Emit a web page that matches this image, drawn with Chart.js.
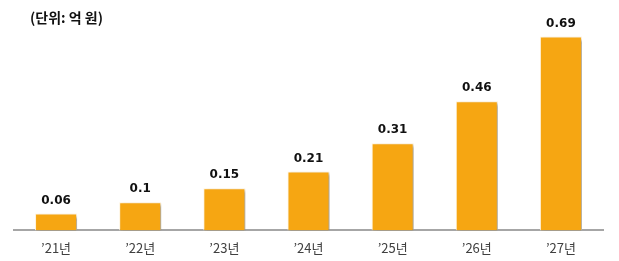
<!doctype html>
<html>
  <head>
    <meta charset="utf-8">
    <script src="https://cdn.jsdelivr.net/npm/chart.js@4.4.1/dist/chart.umd.min.js"></script>
    <style>
      html, body { margin: 0; padding: 0; background: #fff; }
      #box { width: 619px; height: 261px; }
    </style>
    <script>
      // data
      let years = ["’21년", "’22년", "’23년", "’24년", "’25년", "’26년", "’27년"];
      let amounts = [0.06, 0.1, 0.15, 0.21, 0.31, 0.46, 0.69];
      let amountLabels = ["0.06", "0.1", "0.15", "0.21", "0.31", "0.46", "0.69"];
      let unitText = "(단위: 억 원)";

      // soft grey shadow behind the bars
      let barShadow = {
        id: "barShadow",
        beforeDatasetsDraw(chart) {
          let ctx = chart.ctx;
          ctx.save();
          ctx.shadowColor = "rgba(0,0,0,0.35)";
          ctx.shadowOffsetX = 3;
          ctx.shadowOffsetY = 2;
          ctx.shadowBlur = 3;
        },
        afterDatasetsDraw(chart) {
          chart.ctx.restore();
        }
      };

      let valueText = {
        id: "valueText",
        afterDraw(chart) {
          let ctx = chart.ctx;
          ctx.save();
          ctx.font = "bold 12px 'DejaVu Sans'";
          ctx.fillStyle = "#111";
          ctx.textAlign = "center";
          ctx.textBaseline = "bottom";
          chart.getDatasetMeta(0).data.forEach(function (bar, i) {
            ctx.fillText(amountLabels[i], bar.x, bar.y - 7);
          });
          ctx.font = "bold 14px 'Noto Sans CJK KR'";
          ctx.textAlign = "left";
          ctx.textBaseline = "middle";
          ctx.fillText(unitText, 30, 18);
          ctx.restore();
        }
      };

      function startPage() {
        new Chart(document.getElementById("c1"), {
          type: "bar",
          data: {
            labels: years,
            datasets: [{
              data: amounts,
              backgroundColor: "#F6A612",
              borderColor: "#FFF3DC",
              borderWidth: 1,
              barPercentage: 0.5,
              categoryPercentage: 1
            }]
          },
          options: {
            animation: false,
            responsive: false,
            layout: { padding: { left: 14, right: 16, top: 0, bottom: -5 } },
            plugins: { legend: { display: false }, tooltip: { enabled: false } },
            scales: {
              x: {
                grid: { display: false, drawTicks: false },
                border: { color: "#A6A6A6", width: 2 },
                ticks: {
                  color: "#404040",
                  padding: 10,
                  font: { family: "'Noto Sans CJK KR'", size: 13 }
                }
              },
              y: { display: false, min: 0, max: 0.82 }
            }
          },
          plugins: [barShadow, valueText]
        });
      }
    </script>
  </head>
  <body onload="startPage()">
    <div id="box">
      <canvas id="c1" width="619" height="261"></canvas>
    </div>
  </body>
</html>
